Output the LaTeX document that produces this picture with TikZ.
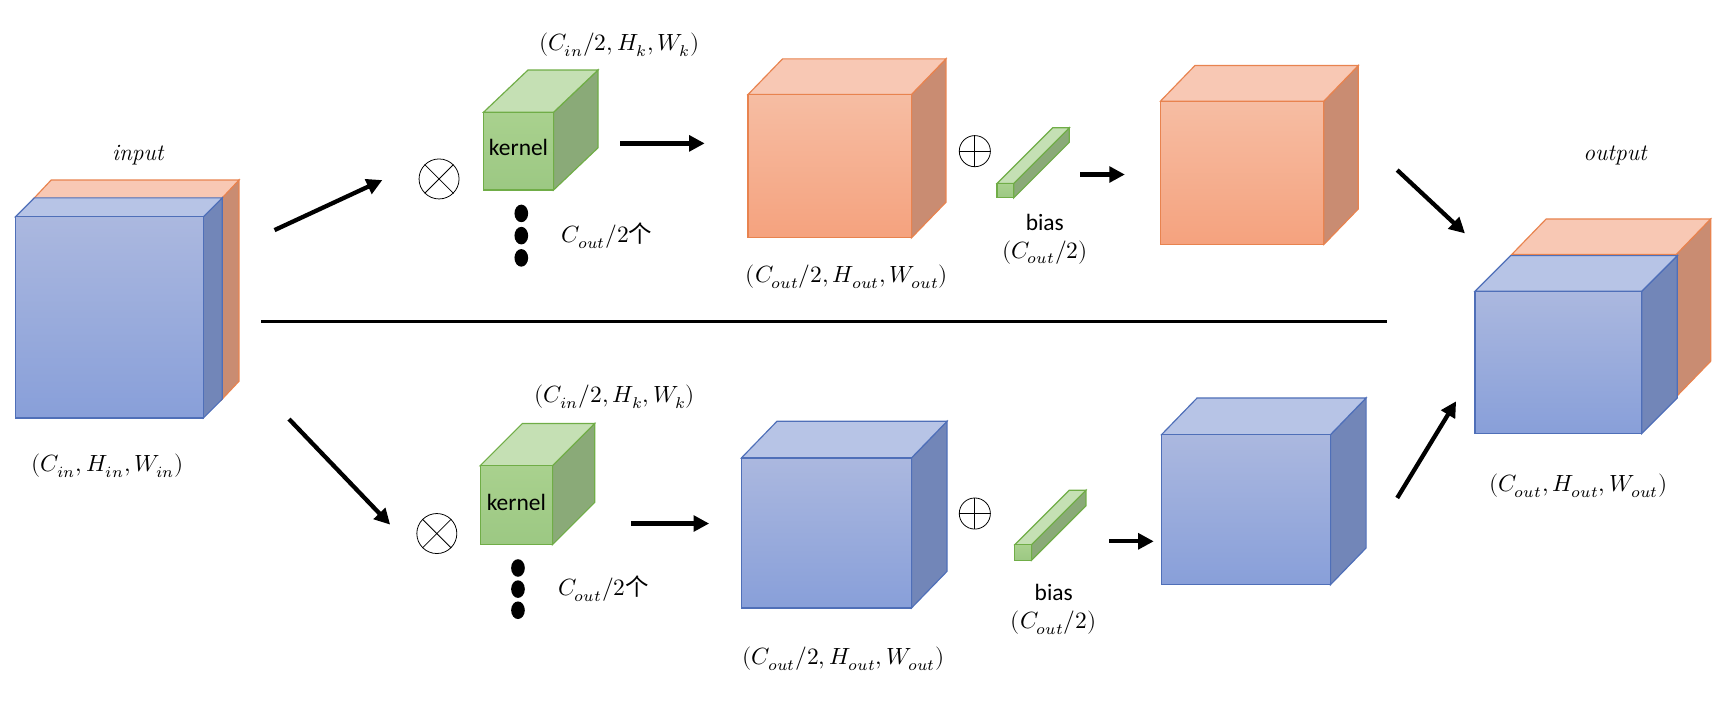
\documentclass[tikz,border=0pt]{standalone}
\usepackage{fontspec}
\usepackage{unicode-math}
\newfontfamily\cjk{Noto Sans CJK SC}
\setsansfont{Carlito}
\usetikzlibrary{arrows.meta,shapes.geometric}
\definecolor{bT}{HTML}{B7C4E6}\definecolor{bS}{HTML}{7286B8}\definecolor{bA}{HTML}{ABB8DF}\definecolor{bB}{HTML}{889FD9}\definecolor{bD}{HTML}{4F6FB8}
\definecolor{oT}{HTML}{F8C8B4}\definecolor{oS}{HTML}{C98C72}\definecolor{oA}{HTML}{F6BDA3}\definecolor{oB}{HTML}{F5A27E}\definecolor{oD}{HTML}{E8834F}
\definecolor{gT}{HTML}{C5E0B4}\definecolor{gS}{HTML}{8AAA78}\definecolor{gA}{HTML}{A9D18E}\definecolor{gB}{HTML}{9CC883}\definecolor{gD}{HTML}{70AD47}
% x y w h dx dy colorprefix
\newcommand\mycube[7]{%
 \fill[#7S,draw=#7D,line width=0.6pt] (#1+#3,#2) -- ++(#5,-#6) -- ++(0,#4) -- (#1+#3,#2+#4) -- cycle;
 \fill[#7T,draw=#7D,line width=0.6pt] (#1,#2) -- ++(#5,-#6) -- ++(#3,0) -- (#1+#3,#2) -- cycle;
 \shade[top color=#7A,bottom color=#7B,draw=#7D,line width=0.6pt] (#1,#2) rectangle ++(#3,#4);}
\tikzset{arr/.style={line width=2.2pt,-{Triangle[length=8pt,width=8pt]}},
 lab/.style={font=\large},
 dot/.style={fill,ellipse,minimum width=7pt,minimum height=9pt,inner sep=0}}
\begin{document}
\begin{tikzpicture}[x=0.02cm,y=-0.02cm]
\useasboundingbox (0,0) rectangle (1560,648);
% input
\mycube{30}{179}{169}{181}{16}{17}{o}
\mycube{14}{195}{169}{181}{17}{17}{b}
% kernels
\mycube{435}{101}{63}{70}{40}{38}{g}
\mycube{432}{419}{65}{71}{38}{38}{g}
\node[font=\sffamily\large] (k1) at (466.5,133) {kernel};
\node[font=\sffamily\large] (k2) at (464.5,452) {kernel};
% outputs
\mycube{673}{85}{147}{129}{31}{32}{o}
\mycube{667}{412}{153}{135}{32}{33}{b}
% bias
\mycube{897}{165}{15}{13}{50}{50}{g}
\mycube{913}{490}{15}{14}{49}{49}{g}
% results
\mycube{1044}{91}{147}{129}{31}{32}{o}
\mycube{1045}{391}{152}{135}{32}{33}{b}
% output
\mycube{1360}{229}{148}{128}{31}{32}{o}
\mycube{1327}{262}{150}{128}{32}{32}{b}
% operators
\node[draw,circle,inner sep=0,minimum size=0.72cm] (m1) at (395,161) {};
\draw (m1.north west)--(m1.south east) (m1.north east)--(m1.south west);
\node[draw,circle,inner sep=0,minimum size=0.72cm] (m2) at (393,480) {};
\draw (m2.north west)--(m2.south east) (m2.north east)--(m2.south west);
\node[draw,circle,inner sep=0,minimum size=0.56cm] (p1) at (877,136) {};
\draw (p1.north)--(p1.south) (p1.east)--(p1.west);
\node[draw,circle,inner sep=0,minimum size=0.56cm] (p2) at (877,462) {};
\draw (p2.north)--(p2.south) (p2.east)--(p2.west);
% arrows
\draw[arr] (247,207)--(344,162);
\draw[arr] (558,129)--(634,129);
\draw[arr] (972,157)--(1012,157);
\draw[arr] (1257,153)--(1318,210);
\draw[arr] (260,377)--(351,472);
\draw[arr] (568,471)--(638,471);
\draw[arr] (998,487)--(1038,487);
\draw[arr] (1257,448)--(1310,361);
\draw[line width=1.6pt] (235,289)--(1248,289);
% dots
\foreach \yy in {192,212,232} \node[dot] at (469,\yy) {};
\foreach \yy in {511,530,549} \node[dot] at (466,\yy) {};
% labels
\node[lab] at (124,140) {$\mathit{input}$};
\node[lab] at (1453,140) {$\mathit{output}$};
\node[lab] at (97,419) {$(C_{in},H_{in},W_{in})$};
\node[lab] at (557,40) {$(C_{in}/2,H_k,W_k)$};
\node[lab] at (553,357) {$(C_{in}/2,H_k,W_k)$};
\node[lab] at (546,212) {$C_{out}/2${\cjk 个}};
\node[lab] at (543,530) {$C_{out}/2${\cjk 个}};
\node[lab] at (762,249) {$(C_{out}/2,H_{out},W_{out})$};
\node[lab] at (759,593) {$(C_{out}/2,H_{out},W_{out})$};
\node[font=\sffamily\large] at (940,200) {bias};
\node[lab] at (940,227) {$(C_{out}/2)$};
\node[font=\sffamily\large] at (948,533) {bias};
\node[lab] at (948,560) {$(C_{out}/2)$};
\node[lab] at (1420,437) {$(C_{out},H_{out},W_{out})$};
\end{tikzpicture}
\end{document}
